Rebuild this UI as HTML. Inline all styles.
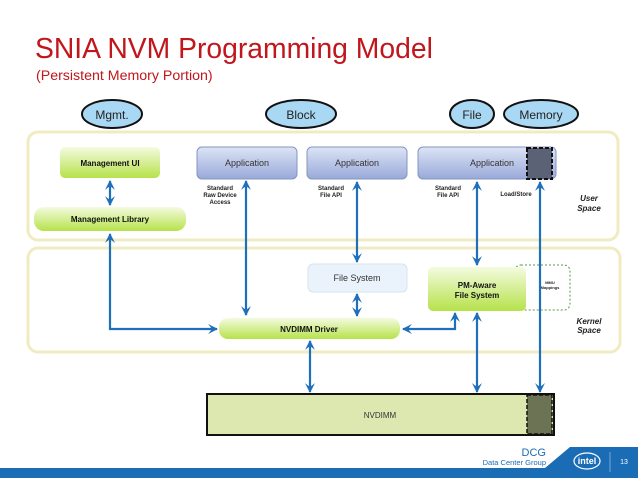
<!DOCTYPE html>
<html><head><meta charset="utf-8"><style>
html,body{margin:0;padding:0;background:#fff}
svg{display:block}
text{font-family:"Liberation Sans",sans-serif}
</style></head><body>
<svg width="638" height="478" viewBox="0 0 638 478" xmlns="http://www.w3.org/2000/svg">
<defs>
<linearGradient id="g" x1="0" y1="0" x2="0" y2="1"><stop offset="0" stop-color="#f4fbe0"/><stop offset="1" stop-color="#b6e24a"/></linearGradient>
<linearGradient id="b" x1="0" y1="0" x2="0" y2="1"><stop offset="0" stop-color="#dde4f6"/><stop offset="1" stop-color="#99a9d9"/></linearGradient>
<marker id="a" viewBox="0 0 10 10" refX="9" refY="5" markerWidth="4.5" markerHeight="4.5" orient="auto-start-reverse"><path d="M0,0 L10,5 L0,10 L4,5 z" fill="#1f6fba"/></marker>
</defs>
<text x="35" y="58" font-size="28.3" fill="#c0161c">SNIA NVM Programming Model</text>
<text x="36" y="80" font-size="14.2" fill="#c0161c">(Persistent Memory Portion)</text>
<g stroke="#111" stroke-width="2" fill="#a9d8f4">
<ellipse cx="112" cy="114" rx="30" ry="14"/>
<ellipse cx="301" cy="114" rx="35" ry="14"/>
<ellipse cx="472" cy="114" rx="22" ry="14"/>
<ellipse cx="541" cy="114" rx="37" ry="14"/>
</g>
<g font-size="12" text-anchor="middle" fill="#222">
<text x="112" y="119">Mgmt.</text><text x="301" y="119">Block</text><text x="472" y="119">File</text><text x="541" y="119">Memory</text>
</g>
<rect x="28" y="132" width="590" height="108" rx="10" fill="#fff" stroke="#f0ebc0" stroke-width="3"/>
<rect x="28" y="248" width="592" height="104" rx="10" fill="#fff" stroke="#f0ebc0" stroke-width="3"/>
<rect x="60" y="147" width="100" height="31" rx="5" fill="url(#g)"/>
<rect x="34" y="207" width="152" height="24" rx="10" fill="url(#g)"/>
<rect x="197" y="147" width="100" height="32" rx="5" fill="url(#b)" stroke="#8595c0"/>
<rect x="307" y="147" width="100" height="32" rx="5" fill="url(#b)" stroke="#8595c0"/>
<rect x="418" y="147" width="138" height="32" rx="5" fill="url(#b)" stroke="#8595c0"/>
<rect x="527" y="148" width="25" height="31" fill="#5b6275" stroke="#111" stroke-width="2" stroke-dasharray="4 2"/>
<rect x="308" y="264" width="99" height="28" rx="5" fill="#eaf3fb" stroke="#d6e4f0"/>
<rect x="515" y="265" width="55" height="45" rx="6" fill="#fff" stroke="#5a9a4a" stroke-dasharray="2 2"/>
<rect x="428" y="267" width="98" height="44" rx="5" fill="url(#g)"/>
<rect x="219" y="318" width="181" height="21" rx="9" fill="url(#g)"/>
<rect x="207" y="394" width="347" height="41" fill="#dce8b0" stroke="#111" stroke-width="2"/>
<rect x="527" y="395" width="25" height="39" fill="#6b7354" stroke="#111" stroke-width="1.5" stroke-dasharray="4 2"/>
<g font-size="8" font-weight="bold" text-anchor="middle" fill="#111">
<text x="110" y="166">Management UI</text>
<text x="110" y="222">Management Library</text>
<text x="309" y="332">NVDIMM Driver</text>
<text x="477" y="288">PM-Aware</text><text x="477" y="298">File System</text>
</g>
<g font-size="9" text-anchor="middle" fill="#333">
<text x="247" y="166">Application</text><text x="357" y="166">Application</text><text x="492" y="166">Application</text>
<text x="357" y="281">File System</text>
</g>
<text x="380" y="418" font-size="8" text-anchor="middle" fill="#333" font-family="DejaVu Sans">NVDIMM</text>
<g font-size="6" font-weight="bold" text-anchor="middle" fill="#222">
<text x="220" y="190">Standard</text><text x="220" y="197">Raw Device</text><text x="220" y="204">Access</text>
<text x="331" y="190">Standard</text><text x="331" y="197">File API</text>
<text x="448" y="190">Standard</text><text x="448" y="197">File API</text>
<text x="516" y="196">Load/Store</text>
<text x="550" y="284" font-size="4">MMU</text><text x="550" y="289" font-size="4">Mappings</text>
</g>
<g font-size="8" font-weight="bold" font-style="italic" text-anchor="middle" fill="#222">
<text x="589" y="201">User</text><text x="589" y="211">Space</text>
<text x="589" y="324">Kernel</text><text x="589" y="333">Space</text>
</g>
<g stroke="#1f6fba" stroke-width="2.2" fill="none" marker-start="url(#a)" marker-end="url(#a)">
<line x1="110" y1="181" x2="110" y2="205"/>
<polyline points="110,234 110,329 217,329"/>
<line x1="246" y1="181" x2="246" y2="315"/>
<line x1="357" y1="182" x2="357" y2="262"/>
<line x1="357" y1="294" x2="357" y2="316"/>
<line x1="477" y1="182" x2="477" y2="265"/>
<polyline points="403,329 455,329 455,313"/>
<line x1="477" y1="313" x2="477" y2="392"/>
<line x1="540" y1="182" x2="540" y2="392"/>
<line x1="310" y1="341" x2="310" y2="392"/>
</g>
<path d="M0,468 L545,468 L570,447 L638,447 L638,478 L0,478 z" fill="#1a6db5"/>
<text x="546" y="456" font-size="11" text-anchor="end" fill="#1a6db5">DCG</text>
<text x="546" y="465" font-size="7.5" text-anchor="end" fill="#1a6db5">Data Center Group</text>
<ellipse cx="587" cy="461" rx="13" ry="8" fill="none" stroke="#fff" stroke-width="1.2"/>
<text x="587" y="464" font-size="9" text-anchor="middle" fill="#fff" font-weight="bold">intel</text>
<line x1="610" y1="452" x2="610" y2="472" stroke="#8ab6df" stroke-width="0.8"/>
<text x="624" y="464" font-size="7" text-anchor="middle" fill="#fff">13</text>
</svg>
</body></html>
